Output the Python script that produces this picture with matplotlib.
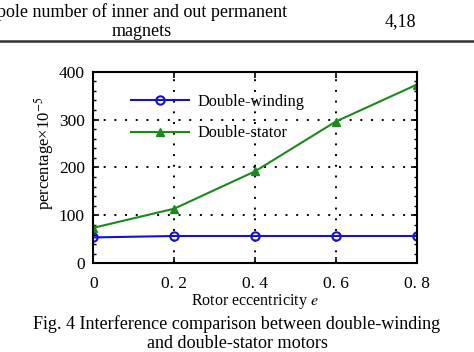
import matplotlib
matplotlib.use("Agg")
import matplotlib.pyplot as plt
from matplotlib.ticker import MultipleLocator

ecc = [0, 0.2, 0.4, 0.6, 0.8]
xtick_labels = ["0", "0. 2", "0. 4", "0. 6", "0. 8"]
double_winding = [54, 57, 57, 57, 57]
double_stator = [74, 114, 192, 296, 373]
yticks = [0, 100, 200, 300, 400]

plt.rcParams['font.family'] = ['Liberation Serif', 'DejaVu Serif']
plt.rcParams['mathtext.fontset'] = 'stix'

fig = plt.figure(figsize=(4.74, 3.52), dpi=100)
ax = fig.add_axes([0.1968, 0.252, 0.6824, 0.5443])

ax.plot(ecc, double_winding, color='#1010e0', marker='o', markersize=6,
        markerfacecolor='none', markeredgewidth=1.5, linewidth=1.5, label='Double-winding')
ax.plot(ecc, double_stator, color='#1a8a1a', marker='^', markersize=6,
        linewidth=1.5, label='Double-stator')

ax.set_xlim(0, 0.8)
ax.set_ylim(0, 400)
ax.set_xticks(ecc)
ax.set_xticklabels(xtick_labels)
ax.set_yticks(yticks)
ax.yaxis.set_minor_locator(MultipleLocator(20))
ax.tick_params(which='major', direction='in', top=True, right=True, labelsize=12.5, length=4, width=1.2)
ax.tick_params(axis='x', which='major', pad=9)
ax.tick_params(axis='y', which='major', pad=6)
ax.tick_params(which='minor', direction='in', left=True, right=True, length=2, width=1)
ax.grid(True, which='major', color='black', linestyle=(0, (1, 4.5)), linewidth=1.4)
for s in ax.spines.values():
    s.set_linewidth(1.5)

ax.set_xlabel('Rotor eccentricity $e$', fontsize=11.5, labelpad=0)
ax.set_ylabel('percentage×10$^{-5}$', fontsize=12)
ax.yaxis.set_label_coords(-0.115, 0.573)

ax.legend(loc='upper left', bbox_to_anchor=(0.07, 0.96), frameon=False,
          fontsize=11.7, handlelength=3.6, handletextpad=0.5, labelspacing=0.95)

fig.text(0.30, 0.967, 'pole number of inner and out permanent', ha='center', va='center', fontsize=13)
fig.text(0.30, 0.91, 'magnets', ha='center', va='center', fontsize=13)
fig.text(0.845, 0.94, '4,18', ha='center', va='center', fontsize=13)
fig.add_artist(plt.Line2D([0, 1], [0.883, 0.883], color='#333333', linewidth=1.8,
                          transform=fig.transFigure))

fig.text(0.5, 0.079, 'Fig. 4 Interference comparison between double-winding',
         ha='center', va='center', fontsize=13.1)
fig.text(0.5, 0.024, 'and double-stator motors', ha='center', va='center', fontsize=13.1)

fig.savefig('out.png', dpi=100)
